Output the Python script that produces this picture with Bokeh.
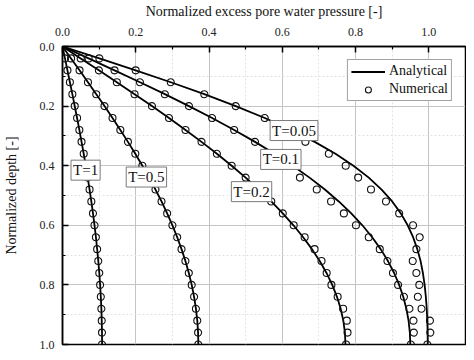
from bokeh.plotting import figure
from bokeh.models import Range1d, FixedTicker, Label, Legend, LegendItem, PrintfTickFormatter
from bokeh.embed import file_html
from bokeh.resources import INLINE

# ---------------- data ----------------
depth = [0.00, 0.04, 0.08, 0.12, 0.16, 0.20, 0.24, 0.28, 0.32, 0.36, 0.40, 0.44, 0.48,
         0.52, 0.56, 0.60, 0.64, 0.68, 0.72, 0.76, 0.80, 0.84, 0.88, 0.92, 0.96, 1.00]

ana_T005 = [0.0, 0.1007, 0.1997, 0.2956, 0.3871, 0.4729, 0.5521, 0.6240, 0.6884, 0.7451,
            0.7941, 0.8359, 0.8710, 0.8999, 0.9234, 0.9422, 0.9570, 0.9685, 0.9774, 0.9837,
            0.9884, 0.9918, 0.9942, 0.9957, 0.9966, 0.9970]
ana_T01 = [0.0, 0.0713, 0.1420, 0.2115, 0.2794, 0.3452, 0.4084, 0.4686, 0.5255, 0.5789,
           0.6285, 0.6743, 0.7162, 0.7541, 0.7882, 0.8185, 0.8452, 0.8684, 0.8884, 0.9052,
           0.9190, 0.9301, 0.9386, 0.9446, 0.9481, 0.9493]
ana_T02 = [0.0, 0.0497, 0.0993, 0.1483, 0.1967, 0.2442, 0.2907, 0.3358, 0.3795, 0.4215,
           0.4617, 0.4999, 0.5360, 0.5698, 0.6013, 0.6304, 0.6569, 0.6809, 0.7021, 0.7206,
           0.7363, 0.7492, 0.7593, 0.7665, 0.7709, 0.7723]
ana_T05 = [0.0, 0.0233, 0.0465, 0.0695, 0.0922, 0.1146, 0.1365, 0.1579, 0.1786, 0.1987,
           0.2180, 0.2364, 0.2538, 0.2703, 0.2857, 0.3000, 0.3131, 0.3249, 0.3355, 0.3448,
           0.3527, 0.3592, 0.3642, 0.3679, 0.3701, 0.3708]
ana_T1 = [0.0, 0.0068, 0.0135, 0.0202, 0.0269, 0.0334, 0.0398, 0.0460, 0.0520, 0.0579,
          0.0635, 0.0688, 0.0739, 0.0787, 0.0832, 0.0874, 0.0912, 0.0946, 0.0977, 0.1004,
          0.1027, 0.1046, 0.1061, 0.1071, 0.1078, 0.1080]

num_T005 = [0.0, 0.1007, 0.1997, 0.2956, 0.3871, 0.4729, 0.5521, 0.612, 0.663, 0.727,
            0.773, 0.807, 0.842, 0.883, 0.919, 0.957, 0.975, 0.966, 0.956, 0.966,
            0.974, 0.970, 0.980, 1.003, 1.004, 0.996]
num_T01 = [0.0, 0.0713, 0.1420, 0.2115, 0.2794, 0.3452, 0.4084, 0.4686, 0.5255, 0.572,
           0.612, 0.648, 0.694, 0.733, 0.768, 0.801, 0.836, 0.866, 0.887, 0.902,
           0.916, 0.932, 0.947, 0.958, 0.959, 0.951]
num_T02 = [0.0, 0.0497, 0.0993, 0.1483, 0.1967, 0.2442, 0.2907, 0.3358, 0.3795, 0.4215,
           0.4617, 0.4999, 0.5360, 0.5698, 0.6013, 0.631, 0.661, 0.688, 0.707, 0.721,
           0.734, 0.751, 0.766, 0.776, 0.778, 0.774]
num_T05 = [0.0, 0.0233, 0.0465, 0.0695, 0.0922, 0.1146, 0.1365, 0.1579, 0.1786, 0.1987,
           0.2180, 0.2364, 0.2538, 0.2703, 0.2857, 0.3000, 0.3131, 0.3249, 0.3355, 0.3448,
           0.3527, 0.3592, 0.3642, 0.3679, 0.3701, 0.3708]
num_T1 = [0.0, 0.0068, 0.0135, 0.0202, 0.0269, 0.0334, 0.0398, 0.0460, 0.0520, 0.0579,
          0.0635, 0.0688, 0.0739, 0.0787, 0.0832, 0.0874, 0.0912, 0.0946, 0.0977, 0.1004,
          0.1027, 0.1046, 0.1061, 0.1071, 0.1078, 0.1080]

curve_labels = ["T=0.05", "T=0.1", "T=0.2", "T=0.5", "T=1"]
x_ticks = [0.0, 0.2, 0.4, 0.6, 0.8, 1.0]
x_minor = [0.1, 0.3, 0.5, 0.7, 0.9, 1.1]
y_ticks = [0.0, 0.2, 0.4, 0.6, 0.8, 1.0]
y_minor = [0.1, 0.3, 0.5, 0.7, 0.9]

# ---------------- figure ----------------
FONT = "Liberation Serif"

p = figure(width=466, height=352, x_range=Range1d(0, 1.1), y_range=Range1d(1.0, 0.0),
           x_axis_location="above", output_backend="svg", toolbar_location=None,
           min_border_left=57, min_border_right=1, min_border_top=46, min_border_bottom=8)
p.background_fill_color = "white"
p.border_fill_color = "white"
p.outline_line_color = "black"
p.outline_line_width = 1.5

for ax, tk, mn, lab in ((p.xaxis[0], x_ticks, x_minor, "Normalized excess pore water pressure [-]"),
                        (p.yaxis[0], y_ticks, y_minor, "Normalized depth [-]")):
    ax.ticker = FixedTicker(ticks=tk, minor_ticks=mn)
    ax.formatter = PrintfTickFormatter(format="%.1f")
    ax.axis_label = lab
    ax.axis_label_text_font = FONT
    ax.axis_label_text_font_size = "14px"
    ax.axis_label_text_font_style = "normal"
    ax.axis_label_text_color = "#111111"
    ax.major_label_text_font = FONT
    ax.major_label_text_font_size = "12px"
    ax.major_label_text_color = "#222222"
    ax.axis_line_color = "black"
    ax.axis_line_width = 1.5
    ax.major_tick_line_color = "black"
    ax.major_tick_line_width = 1.5
    ax.minor_tick_line_color = "black"
    ax.minor_tick_line_width = 1.2
    ax.major_tick_in = 6
    ax.major_tick_out = 0
    ax.minor_tick_in = 3
    ax.minor_tick_out = 0

p.xaxis.major_label_standoff = 11
p.xaxis.axis_label_standoff = 6
p.yaxis.major_label_standoff = 8
p.yaxis.axis_label_standoff = 18

for g in (p.xgrid[0], p.ygrid[0]):
    g.grid_line_color = "#c4c4c4"
    g.grid_line_width = 1
    g.minor_grid_line_color = "#e2e2e2"
    g.minor_grid_line_dash = "2 2"
p.xgrid.ticker = p.xaxis[0].ticker
p.ygrid.ticker = p.yaxis[0].ticker

ana_series = [ana_T005, ana_T01, ana_T02, ana_T05, ana_T1]
num_series = [num_T005, num_T01, num_T02, num_T05, num_T1]

line_r = None
for a in ana_series:
    r = p.line(a, depth, line_color="black", line_width=1.8)
    if line_r is None:
        line_r = r
circ_r = None
for n in num_series:
    r = p.scatter(n, depth, marker="circle", size=7, fill_color=None,
                  line_color="#111111", line_width=1.1)
    if circ_r is None:
        circ_r = r

label_pos = [(0.632, 0.282), (0.596, 0.379), (0.516, 0.487), (0.229, 0.438), (0.063, 0.415)]
for txt, (lx, ly) in zip(curve_labels, label_pos):
    p.add_layout(Label(x=lx, y=ly, text=txt, text_align="center", text_baseline="middle",
                       text_font=FONT, text_font_size="15px", text_color="#111111",
                       background_fill_color="white", background_fill_alpha=1.0,
                       border_line_color="#7a7a7a", border_line_width=1, padding=2))

legend = Legend(items=[LegendItem(label="Analytical", renderers=[line_r]),
                       LegendItem(label="Numerical", renderers=[circ_r])],
                location="top_right", margin=13, padding=3, spacing=2,
                glyph_width=34, glyph_height=15, label_height=15, label_standoff=4,
                label_text_font=FONT, label_text_font_size="14px", label_text_color="#111111",
                border_line_color="#444444", border_line_width=1,
                background_fill_color="white", background_fill_alpha=1.0)
p.add_layout(legend)

open("out.html", "w").write(file_html(p, INLINE))
